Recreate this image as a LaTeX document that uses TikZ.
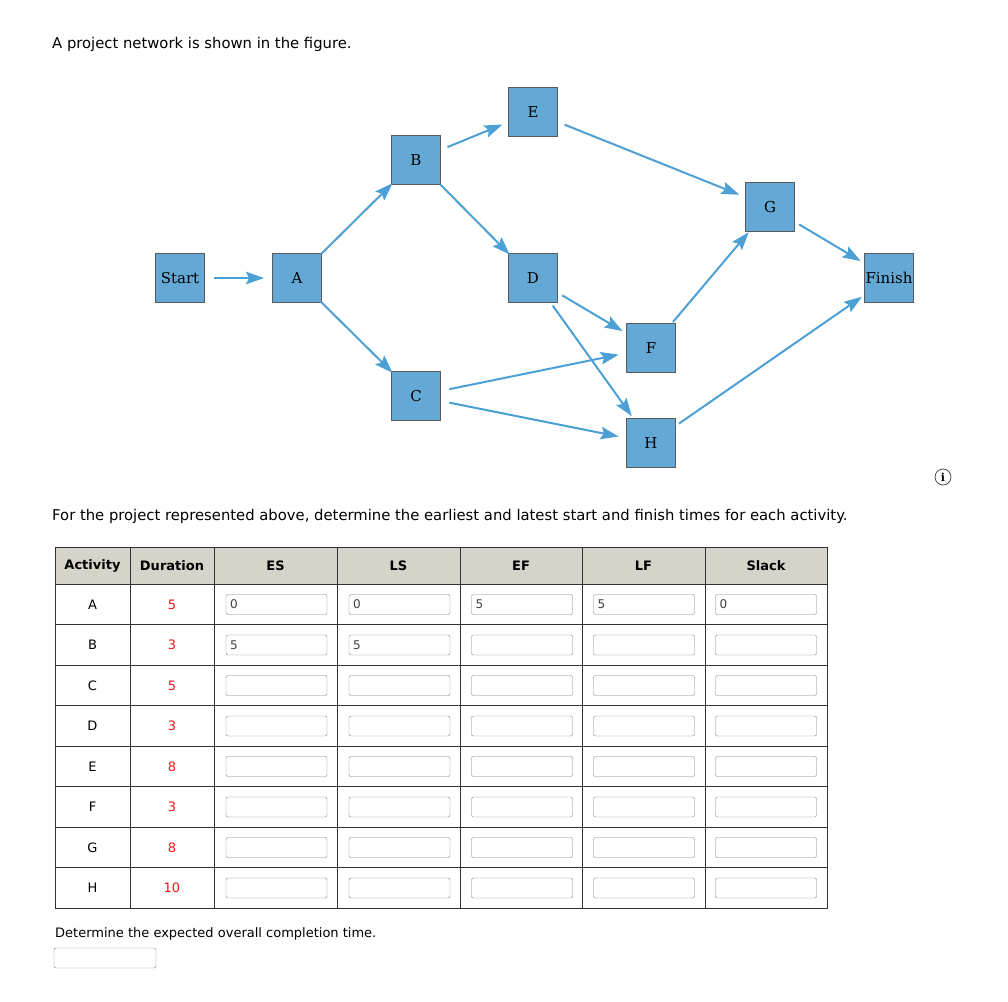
\documentclass[tikz,border=0pt]{standalone}
\usepackage{fontspec}
\setmainfont{DejaVu Sans}
\newfontfamily\netfont{DejaVu Serif}
\usetikzlibrary{arrows.meta}
\definecolor{netblue}{HTML}{64A9D6}
\definecolor{arrowblue}{HTML}{4CA0D6}
\definecolor{headgray}{HTML}{D6D3CA}
\definecolor{durred}{HTML}{F01818}
\tikzset{
  act/.style={draw=black!65, fill=netblue, minimum size=49pt, inner sep=0pt,
    font=\netfont\fontsize{15}{15}\selectfont},
  link/.style={arrowblue, line width=2pt, shorten <=34pt, shorten >=33pt,
    -{Stealth[length=18pt, width=12.5pt, inset=3pt]}},
  inbox/.style={draw=black!50, rounded corners=2pt, minimum width=101pt,
    minimum height=20pt, text width=93pt, inner sep=4pt, align=left,
    font=\fontsize{12}{12}\selectfont, text=black!75},
  txt/.style={font=\fontsize{13}{13}\selectfont, inner sep=0pt},
  bigtxt/.style={font=\fontsize{14.8}{15}\selectfont, inner sep=0pt}
}
\begin{document}
\begin{tikzpicture}[x=1pt, y=-1pt]
\useasboundingbox (0,0) rectangle (1008,1001);
\node[bigtxt, anchor=base west] (intro) at (52,48) {A project network is shown in the figure.};
% network
\node[act] (start) at (180,278) {Start};
\node[act] (a) at (297,278) {A};
\node[act] (b) at (416,160) {B};
\node[act] (c) at (416,396) {C};
\node[act] (d) at (533,278) {D};
\node[act] (e) at (533,112) {E};
\node[act] (f) at (651,348) {F};
\node[act] (g) at (770,207) {G};
\node[act] (h) at (651,443) {H};
\node[act] (finish) at (889,278) {Finish};
\draw[link] (start.center) -- (a.center);
\draw[link] (a.center) -- (b.center);
\draw[link] (a.center) -- (c.center);
\draw[link] (b.center) -- (e.center);
\draw[link] (b.center) -- (d.center);
\draw[link] (e.center) -- (g.center);
\draw[link] (d.center) -- (f.center);
\draw[link] (d.center) -- (h.center);
\draw[link] (c.center) -- (f.center);
\draw[link] (c.center) -- (h.center);
\draw[link] (f.center) -- (g.center);
\draw[link] (g.center) -- (finish.center);
\draw[link] (h.center) -- (finish.center);
\node[circle, draw=black!70, line width=0.8pt, minimum size=16pt, inner sep=0pt,
  font=\netfont\bfseries\fontsize{11}{11}\selectfont] (info) at (943,477) {i};
\node[bigtxt, anchor=base west] (task) at (52,520) {For the project represented above, determine the earliest and latest start and finish times for each activity.};
% table
\fill[headgray] (55,547) rectangle (827,584);
\draw[black!80, line width=1pt] (55,547) rectangle (827,908);
\foreach \cx in {130,214,337,460,582,705}
  \draw[black!80, line width=1pt] (\cx,547) -- (\cx,908);
\foreach \r in {0,...,7}
  \draw[black!80, line width=1pt] (55,{584+40.5*\r}) -- (827,{584+40.5*\r});
\foreach \h/\cx in {Activity/92.5, Duration/172, ES/275.5, LS/398.5, EF/521, LF/643.5, Slack/766}
  \node[txt, font=\bfseries\fontsize{13}{13}\selectfont] (head\h) at (\cx,566) {\h};
\foreach \a/\d/\es/\ls/\ef/\lf/\sl [count=\r] in {A/5/0/0/5/5/0, B/3/5/5/{}/{}/{}, C/5/{}/{}/{}/{}/{},
    D/3/{}/{}/{}/{}/{}, E/8/{}/{}/{}/{}/{}, F/3/{}/{}/{}/{}/{}, G/8/{}/{}/{}/{}/{}, H/10/{}/{}/{}/{}/{}}{
  \node[txt] (act\a) at (92.5,{564+40.5*\r}) {\a};
  \node[txt, text=durred] (dur\a) at (172,{564+40.5*\r}) {\d};
  \node[inbox] (es\a) at (276.5,{564+40.5*\r}) {\es};
  \node[inbox] (ls\a) at (399.5,{564+40.5*\r}) {\ls};
  \node[inbox] (ef\a) at (522,{564+40.5*\r}) {\ef};
  \node[inbox] (lf\a) at (644,{564+40.5*\r}) {\lf};
  \node[inbox] (sl\a) at (766,{564+40.5*\r}) {\sl};
}
\node[txt, anchor=base west] (ask) at (55,937) {Determine the expected overall completion time.};
\node[inbox, minimum width=102pt, text width=94pt] (total) at (105,958) {};
\end{tikzpicture}
\end{document}
